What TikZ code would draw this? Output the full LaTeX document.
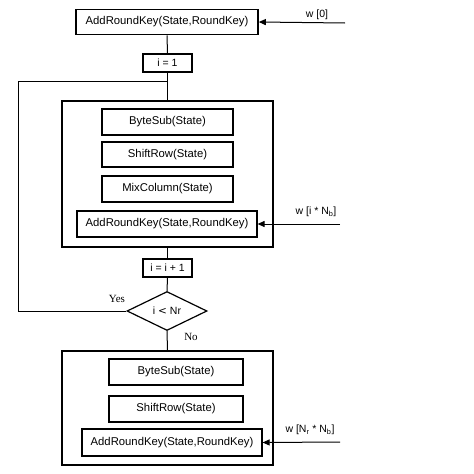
\documentclass[tikz,border=0pt]{standalone}
\usepackage{fontspec}
\setmainfont{Liberation Sans}
\newfontfamily\yesnofont{Liberation Serif}
\usetikzlibrary{shapes.geometric,arrows.meta}

\tikzset{
  stepbox/.style={draw, line width=1.2pt, inner sep=0pt, font=\fontsize{11.3}{13}\selectfont},
  bigbox/.style={draw, line width=1.5pt, inner sep=0pt},
  countbox/.style={draw, line width=1.1pt, inner sep=0pt, minimum width=49pt, minimum height=18pt, font=\fontsize{10.5}{12}\selectfont},
  test/.style={draw, diamond, line width=1.2pt, inner sep=0pt, minimum width=80pt, minimum height=39pt, font=\fontsize{10.5}{12}\selectfont},
  flow/.style={line width=1pt},
  keyin/.style={line width=1pt, -{Triangle[length=7pt,width=6pt]}},
  keylabel/.style={font=\fontsize{10.5}{12}\selectfont},
}

\begin{document}
\begin{tikzpicture}[x=1pt,y=-1pt]
\useasboundingbox (0,0) rectangle (474,474);

% initial round
\node[stepbox, line width=1.6pt, minimum width=182pt, minimum height=25pt] (add0) at (167,22) {AddRoundKey(State,RoundKey)};
\node[countbox] (init) at (167.5,63) {i = 1};

% main rounds
\node[bigbox, minimum width=211pt, minimum height=146pt] (round) at (167.5,174) {};
\node[stepbox, minimum width=131pt, minimum height=26pt] (sub1) at (167.5,122) {ByteSub(State)};
\node[stepbox, minimum width=131pt, minimum height=25pt] (shift1) at (167.5,154.5) {ShiftRow(State)};
\node[stepbox, minimum width=131pt, minimum height=26pt] (mix1) at (167.5,189) {MixColumn(State)};
\node[stepbox, minimum width=180pt, minimum height=26pt] (add1) at (167,224) {AddRoundKey(State,RoundKey)};

\node[countbox] (incr) at (167.5,268) {i = i + 1};
\node[test] (cond) at (167,311) {i {\fontspec{DejaVu Sans}<} Nr};

% final round
\node[bigbox, minimum width=211pt, minimum height=114pt] (final) at (167.5,408) {};
\node[stepbox, minimum width=134pt, minimum height=26pt] (sub2) at (176,372) {ByteSub(State)};
\node[stepbox, minimum width=134pt, minimum height=26pt] (shift2) at (176,409) {ShiftRow(State)};
\node[stepbox, minimum width=180pt, minimum height=27pt] (add2) at (172,442.5) {AddRoundKey(State,RoundKey)};

% round keys
\coordinate (k0) at (345,23);
\coordinate (k1) at (340,224);
\coordinate (k2) at (340,442);
\node[keylabel] (w0) at (317,15) {w [0]};
\node[keylabel] (w1) at (316,212) {w [i * N\textsubscript{b}]};
\node[keylabel] (w2) at (310,430) {w [N\textsubscript{r} * N\textsubscript{b}]};
\draw[keyin] (k0) -- (add0.east);
\draw[keyin] (k1) -- (add1.east);
\draw[keyin] (k2) -- (add2.east);

% flow
\coordinate (join) at (167.5,81);
\coordinate (back) at (18,311);
\draw[flow] (add0.south) -- (init.north);
\draw[flow] (init.south) -- (round.north);
\draw[flow] (round.south) -- (incr.north);
\draw[flow] (incr.south) -- (cond.north);
\draw[flow] (cond.west) -- (back) |- (join);
\draw[flow] (cond.south) -- (final.north);
\node[font=\yesnofont\fontsize{11}{12}\selectfont] (yes) at (117,299) {Yes};
\node[font=\yesnofont\fontsize{11}{12}\selectfont] (no) at (191,337) {No};

\end{tikzpicture}
\end{document}
